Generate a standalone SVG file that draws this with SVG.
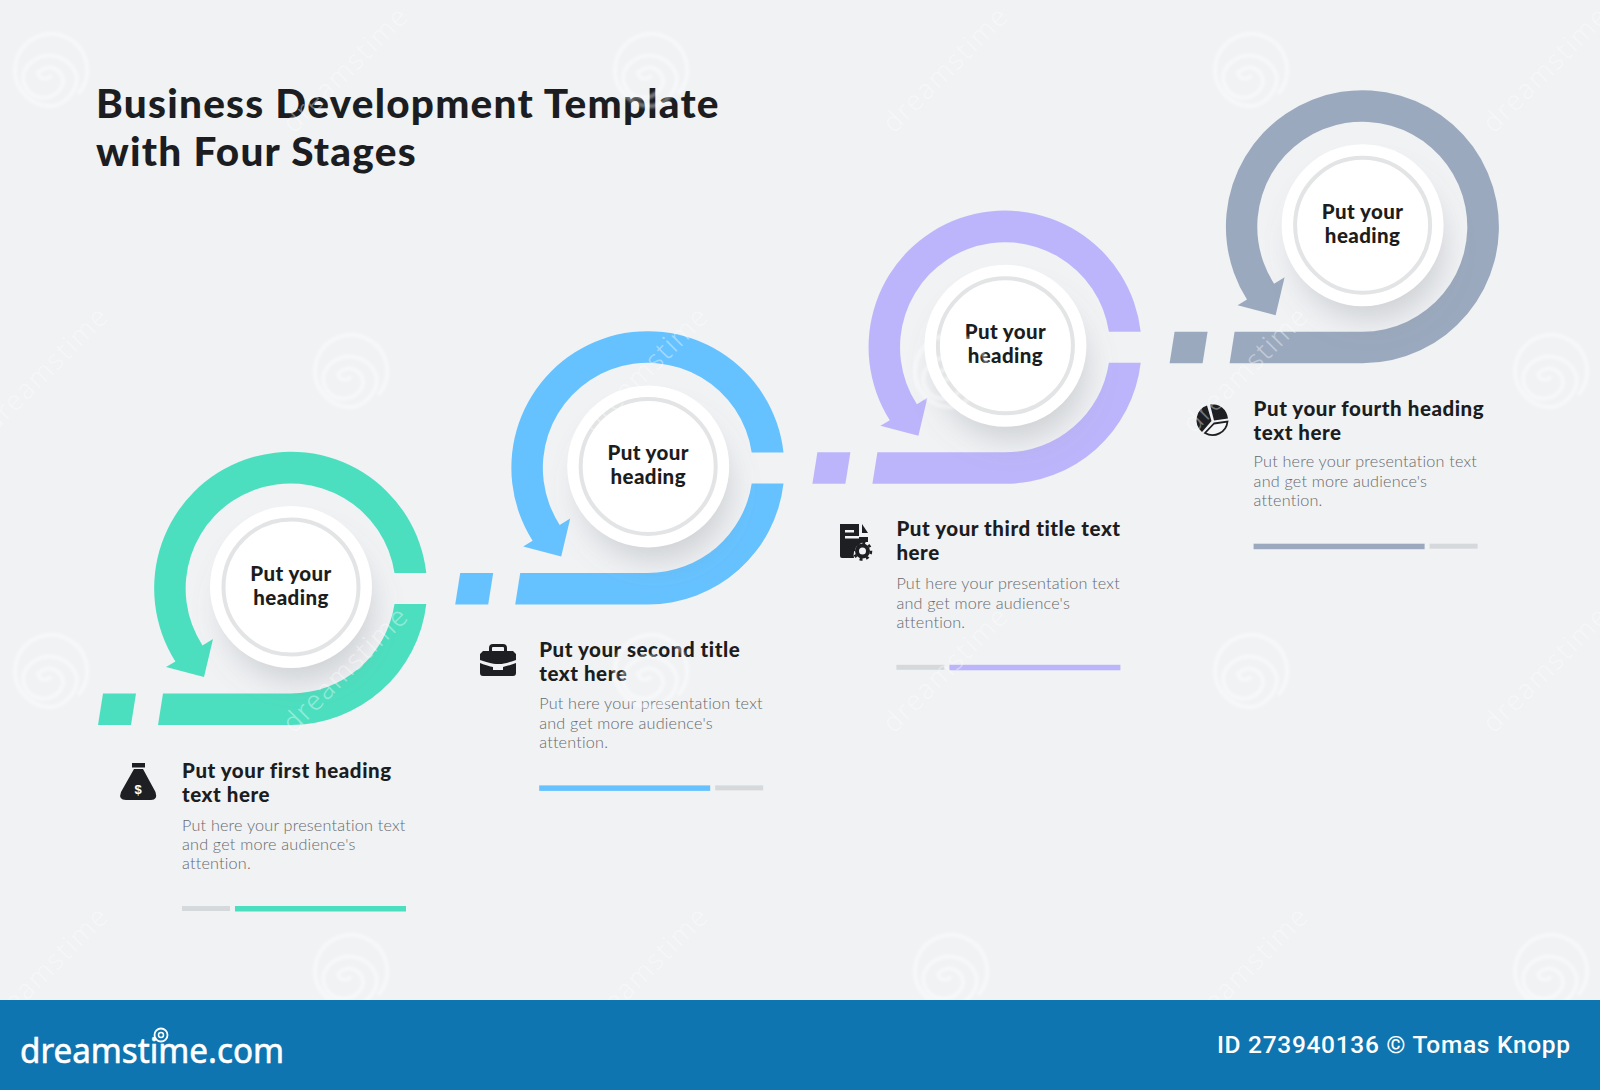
<svg xmlns="http://www.w3.org/2000/svg" width="1600" height="1090" viewBox="0 0 1600 1090">
<style>
.t{font-family:"Lato","Liberation Sans",sans-serif;font-weight:900;fill:#1b1d20}
.title{font-size:40.5px;letter-spacing:1.25px}
.lab{font-size:20.5px;text-anchor:middle;letter-spacing:.4px}
.hd{font-size:20.5px;letter-spacing:.55px}
.bd{font-family:"Lato","Liberation Sans",sans-serif;font-weight:300;font-size:16.2px;fill:#67696c;letter-spacing:.2px}
.wm{font-family:"Noto Sans","Liberation Sans",sans-serif;font-weight:300;font-size:27.5px;fill:#fff;fill-opacity:.4;text-anchor:middle;letter-spacing:1.5px}
.c1{fill:#4cdfbf}.c2{fill:#66c2ff}.c3{fill:#bdb5fb}.c4{fill:#9ba9be}.g{fill:#d6d9dc}
.ic{fill:#1d1f22}
</style>
<defs>
<filter id="sh" x="-50%" y="-50%" width="200%" height="200%"><feGaussianBlur stdDeviation="15"/></filter>
<filter id="wb" x="-20%" y="-20%" width="140%" height="140%"><feGaussianBlur stdDeviation="0.8"/></filter>
<path id="ringA" d="M426.300,573A136.500,136.500 0 1 0 175.400,661.400L166,667L204,677L213,639L202.500,645.500A105,105 0 1 1 394.500,573Z"/>
<path id="ringB" d="M426.300,604A136.500,136.500 0 0 1 290.700,725L158,725L163,693.500L290.700,693.500A105,105 0 0 0 394.500,604Z"/>
<path id="ringF" d="M158,725L290.700,725A136.500,136.500 0 1 0 175.400,661.400L166,667L204,677L213,639L202.500,645.500A105,105 0 1 1 290.700,693.500L163,693.500Z"/>
<path id="dash" d="M98,725L103,693.500L136,693.500L131,725Z"/>
<g id="disc">
<ellipse cx="298" cy="609" rx="74" ry="72" fill="#7d8288" fill-opacity=".3" filter="url(#sh)"/>
<circle cx="291" cy="587" r="81" fill="#fff"/>
<circle cx="291" cy="587" r="67.500" fill="#fff" stroke="#e3e4e5" stroke-width="4"/>
</g>
<g id="spiral" fill="none" stroke="#fff" stroke-opacity=".38" stroke-width="4.500" filter="url(#wb)">
<path d="M29,24A36,36 0 1 0 4,36A30,30 0 0 0 28,8A28,28 0 0 0 -25,2A20,20 0 0 0 14,13A14,14 0 0 0 -11,3A7,7 0 0 0 2,5"/>
</g>
</defs>
<rect width="1600" height="1090" fill="#f0f2f4"/>

<g id="title">
<text class="t title" x="96" y="118">Business Development Template</text>
<text class="t title" x="96" y="166">with Four Stages</text>
</g>

<g id="connectors">
<use href="#dash" class="c1"/>
<use href="#dash" class="c2" transform="translate(357.2,-120.6)"/>
<use href="#dash" class="c3" transform="translate(714.4,-241.2)"/>
<use href="#dash" class="c4" transform="translate(1071.6,-361.8)"/>
</g>

<g id="node1">
<use href="#ringA" class="c1"/><use href="#ringB" class="c1"/><use href="#disc"/>
<text class="t lab" x="291" y="580.500">Put your</text><text class="t lab" x="291" y="604.500">heading</text>
<g class="ic"><path d="M132,763H145V767.500H132ZM134,769H143L155.500,792Q158,800 151,800H126Q118,800 121,792Z"/></g>
<text x="138" y="794" text-anchor="middle" font-family="Liberation Sans,sans-serif" font-weight="700" font-size="13" fill="#fff">$</text>
<text class="t hd" x="182" y="777.500">Put your first heading</text><text class="t hd" x="182" y="801.500">text here</text>
<text class="bd" x="182" y="830.500">Put here your presentation text</text><text class="bd" x="182" y="850">and get more audience's</text><text class="bd" x="182" y="869">attention.</text>
<rect class="g" x="182" y="906" width="48" height="5"/><rect class="c1" x="235" y="906" width="171" height="5.500"/>
</g>

<g id="node2" transform="translate(357.2,-120.6)">
<use href="#ringA" class="c2"/><use href="#ringB" class="c2"/><use href="#disc"/>
<text class="t lab" x="291" y="580.500">Put your</text><text class="t lab" x="291" y="604.500">heading</text>
<text class="t hd" x="182" y="777.500">Put your second title</text><text class="t hd" x="182" y="801.500">text here</text>
<text class="bd" x="182" y="830">Put here your presentation text</text><text class="bd" x="182" y="849.500">and get more audience's</text><text class="bd" x="182" y="868.500">attention.</text>
<rect class="c2" x="182" y="906" width="171" height="5.500"/><rect class="g" x="358" y="906" width="48" height="5"/>
</g>
<g id="icon2" class="ic"><path fill-rule="evenodd" d="M489,651V648Q489,644 493,644H503Q507,644 507,648V651H513L516,654V660Q504,664 500,664H496Q492,664 480,660V654L483,651ZM492,651H504V648Q504,647 503,647H493Q492,647 492,648Z"/><path d="M480,663Q488,666 493,667V670H503V667Q508,666 516,663V673Q516,676 513,676H483Q480,676 480,673Z"/></g>

<g id="node3" transform="translate(714.4,-241.2)">
<use href="#ringA" class="c3"/><use href="#ringB" class="c3"/><use href="#disc"/>
<text class="t lab" x="291" y="580.500">Put your</text><text class="t lab" x="291" y="604.500">heading</text>
<text class="t hd" x="182" y="777.500">Put your third title text</text><text class="t hd" x="182" y="801.500">here</text>
<text class="bd" x="182" y="830.500">Put here your presentation text</text><text class="bd" x="182" y="850">and get more audience's</text><text class="bd" x="182" y="869">attention.</text>
<rect class="g" x="182" y="906" width="48" height="5"/><rect class="c3" x="235" y="906" width="171" height="5.500"/>
</g>
<g id="icon3" class="ic"><path d="M840,524H859V537H868V542A13,13 0 0 0 854,558H842Q840,558 840,556Z"/><path d="M862,524L868,533H862Z"/><rect x="845" y="530" width="9" height="2.500" fill="#f0f2f4"/><rect x="845" y="536" width="14" height="2.500" fill="#f0f2f4"/><circle cx="862.500" cy="551" r="5.500" fill="none" stroke="#1d1f22" stroke-width="4"/><circle cx="862.500" cy="551" r="8.500" fill="none" stroke="#1d1f22" stroke-width="2.500" stroke-dasharray="3 3.600"/></g>

<g id="node4" transform="translate(1071.6,-361.8)">
<use href="#ringF" class="c4"/><use href="#disc"/>
<text class="t lab" x="291" y="580.500">Put your</text><text class="t lab" x="291" y="604.500">heading</text>
<text class="t hd" x="182" y="777.500">Put your fourth heading</text><text class="t hd" x="182" y="801.500">text here</text>
<text class="bd" x="182" y="829">Put here your presentation text</text><text class="bd" x="182" y="848.500">and get more audience's</text><text class="bd" x="182" y="867.500">attention.</text>
<rect class="c4" x="182" y="905.500" width="171" height="5.500"/><rect class="g" x="358" y="905.500" width="48" height="5"/>
</g>
<g id="icon4"><path class="ic" d="M1210,404.500A15.500,15.500 0 0 1 1228,418.500L1214,420.500ZM1207,405.500L1211.500,421L1202,432A15.500,15.500 0 0 1 1207,405.500Z"/><path d="M1214,423.500L1227.500,421.500A15,15 0 0 1 1205,433Z" fill="#f4f5f6" stroke="#1d1f22" stroke-width="1.800"/></g>

<g id="watermarks">
<use href="#spiral" x="49" y="70"/><use href="#spiral" x="649" y="70"/><use href="#spiral" x="1249" y="70"/>
<use href="#spiral" x="349" y="371"/><use href="#spiral" x="949" y="371"/><use href="#spiral" x="1549" y="371"/>
<use href="#spiral" x="49" y="671"/><use href="#spiral" x="649" y="671"/><use href="#spiral" x="1249" y="671"/>
<use href="#spiral" x="349" y="971"/><use href="#spiral" x="949" y="971"/><use href="#spiral" x="1549" y="971"/>
<text class="wm" transform="translate(352,76) rotate(-45)">dreamstime</text>
<text class="wm" transform="translate(952,76) rotate(-45)">dreamstime</text>
<text class="wm" transform="translate(1552,76) rotate(-45)">dreamstime</text>
<text class="wm" transform="translate(52,376) rotate(-45)">dreamstime</text>
<text class="wm" transform="translate(652,376) rotate(-45)">dreamstime</text>
<text class="wm" transform="translate(1252,376) rotate(-45)">dreamstime</text>
<text class="wm" transform="translate(352,676) rotate(-45)">dreamstime</text>
<text class="wm" transform="translate(952,676) rotate(-45)">dreamstime</text>
<text class="wm" transform="translate(1552,676) rotate(-45)">dreamstime</text>
<text class="wm" transform="translate(52,976) rotate(-45)">dreamstime</text>
<text class="wm" transform="translate(652,976) rotate(-45)">dreamstime</text>
<text class="wm" transform="translate(1252,976) rotate(-45)">dreamstime</text>
</g>

<g id="banner">
<rect y="1000" width="1600" height="90" fill="#0f75b0"/>
<text x="20" y="1063" font-family="Noto Sans,sans-serif" font-size="34" fill="#fff" stroke="#fff" stroke-width=".6" textLength="264" lengthAdjust="spacingAndGlyphs">dreamstime.com</text>
<circle cx="161" cy="1035" r="6.500" fill="none" stroke="#fff" stroke-width="1.800"/><circle cx="161" cy="1035" r="2.500" fill="none" stroke="#fff" stroke-width="1.500"/>
<text x="1217" y="1053" font-family="Roboto,sans-serif" font-weight="500" font-size="24.500" fill="#fff" textLength="353" lengthAdjust="spacing">ID 273940136 © Tomas Knopp</text>
</g>
</svg>
